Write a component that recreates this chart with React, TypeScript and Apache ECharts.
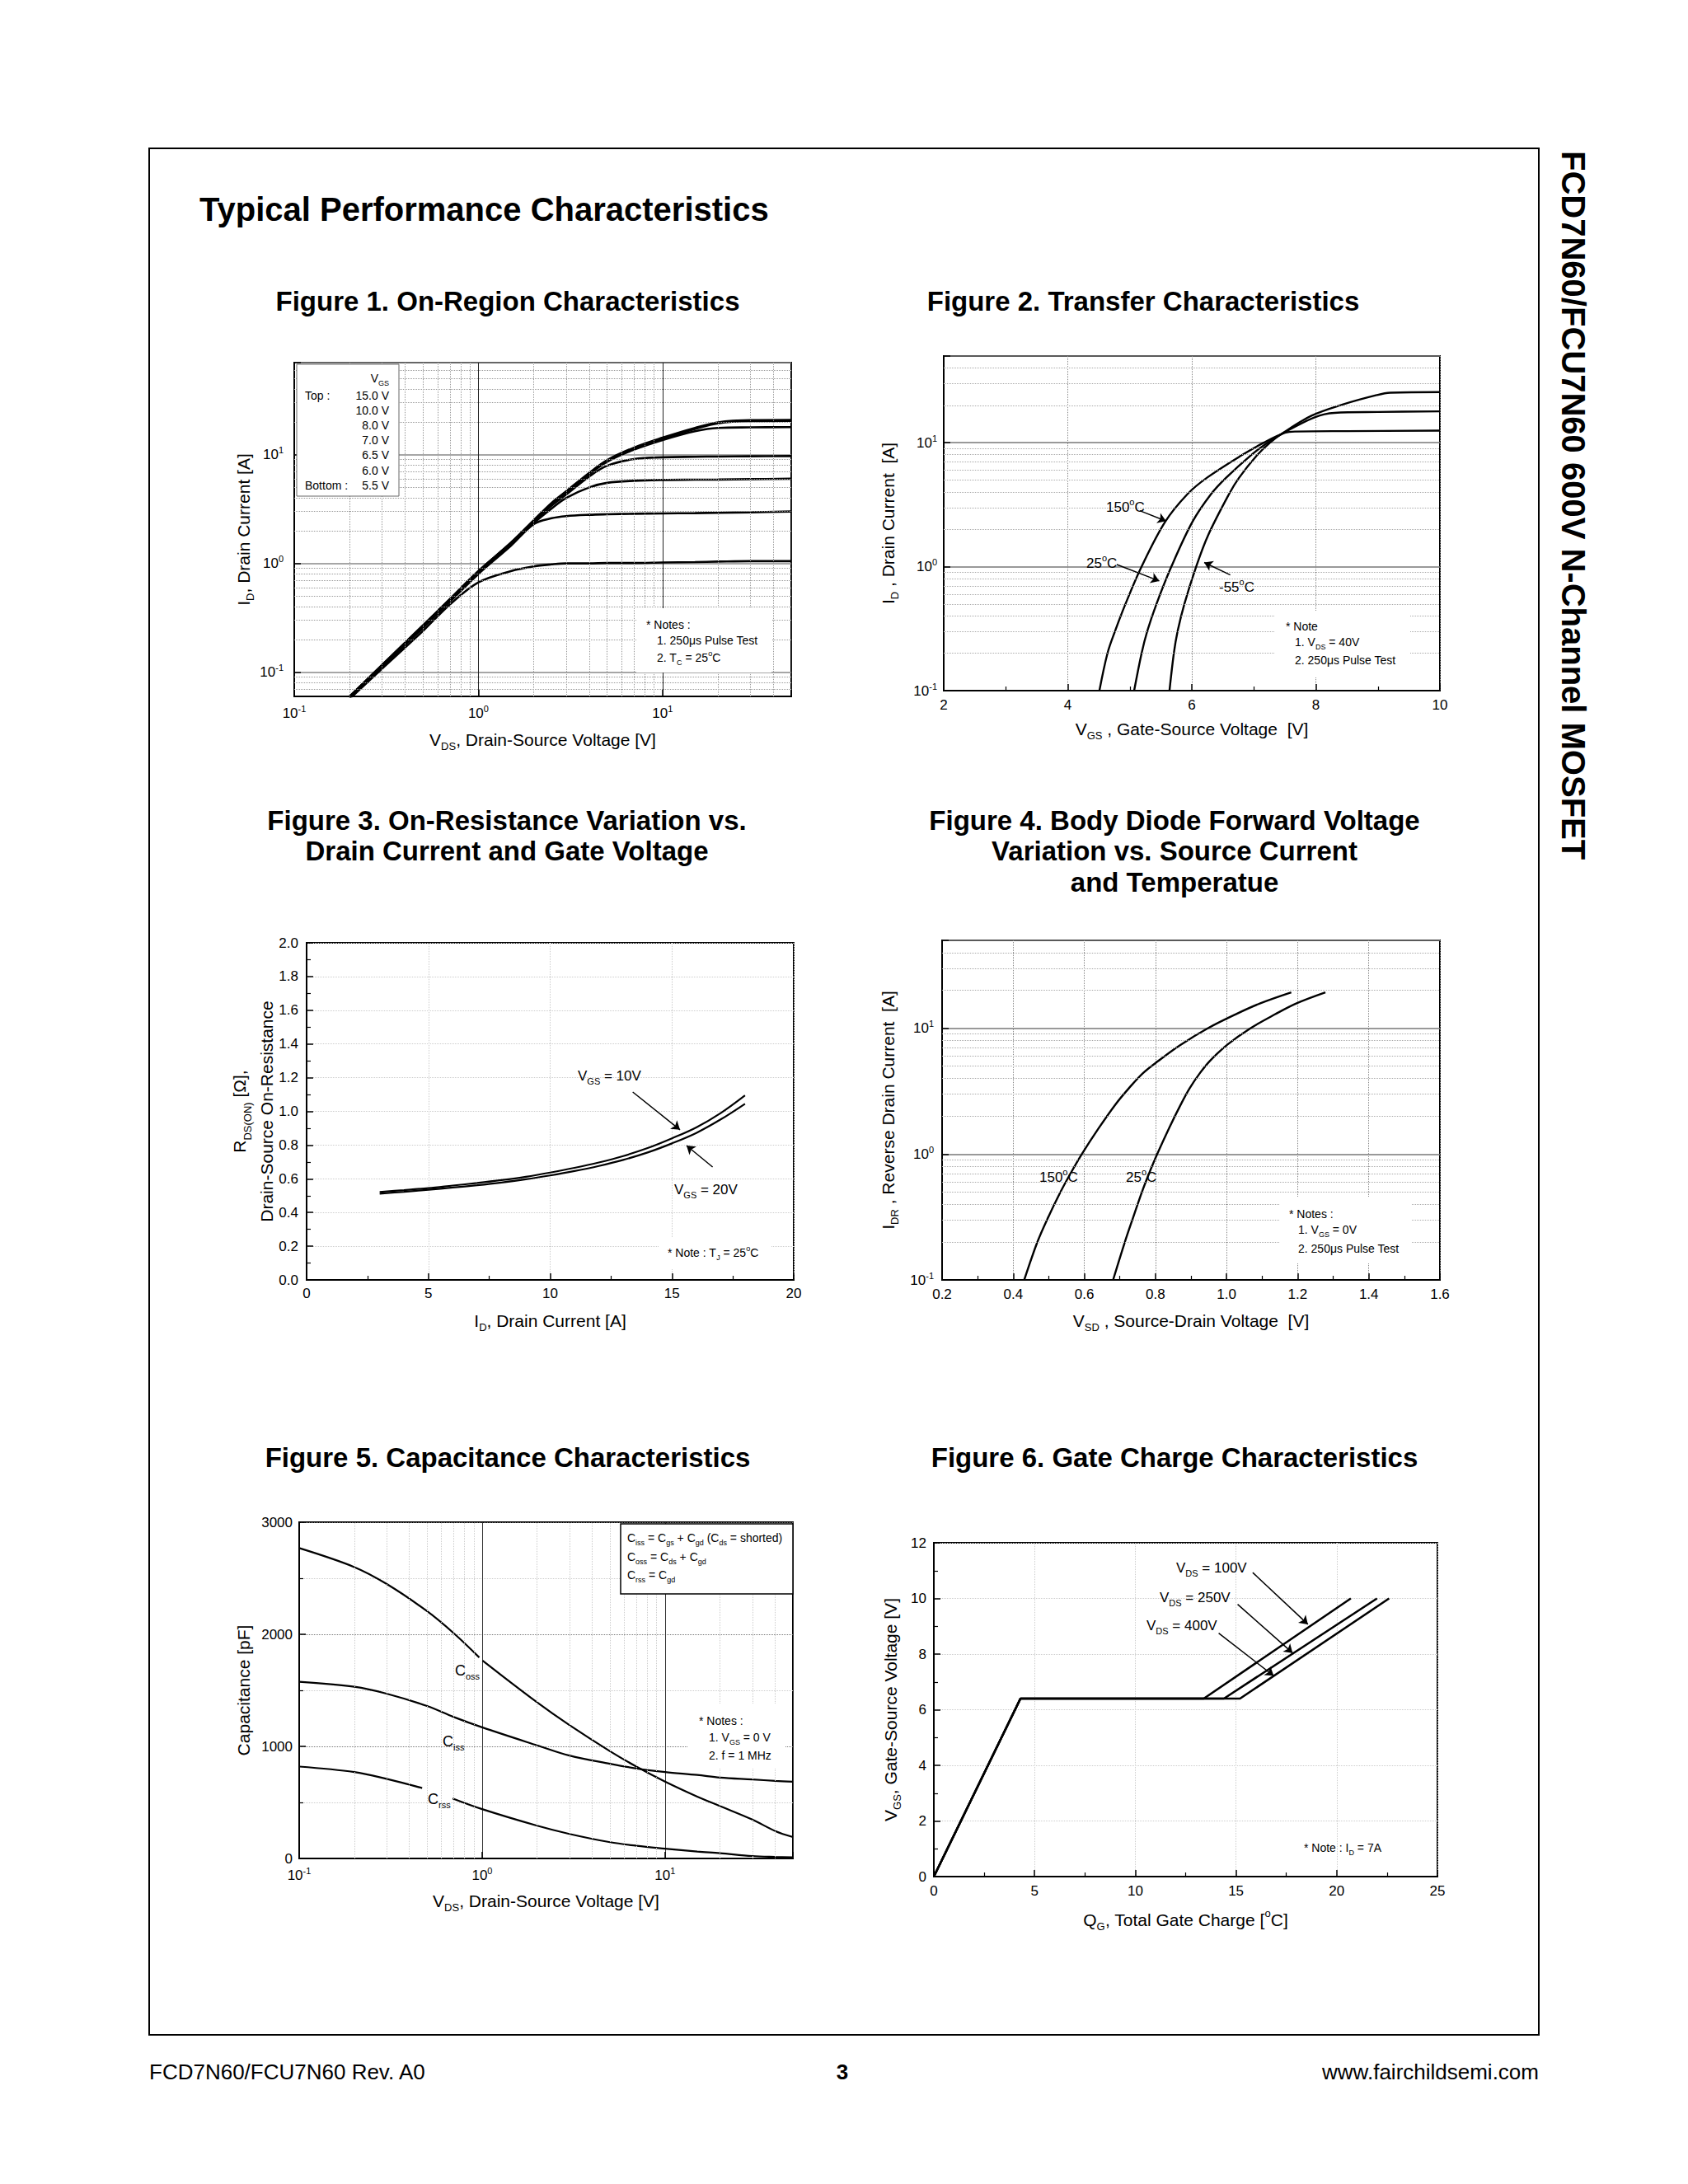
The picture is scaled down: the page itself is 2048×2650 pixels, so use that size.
import React, { useEffect, useRef } from 'react';
import * as echarts from 'echarts';

const FONT = '"Liberation Sans", Arial, Helvetica, sans-serif';

// ---------------- Figure 1 : On-Region Characteristics ----------------
const f1Vds = [0.2, 0.3, 0.5, 0.7, 1, 1.5, 2, 2.5, 3, 4, 5, 7, 10, 15, 20, 30, 50];
const f1Id15 = [0.06, 0.117, 0.27, 0.47, 0.85, 1.55, 2.5, 3.6, 4.6, 6.8, 8.9, 11.6, 14.3, 17.6, 19.8, 20.7, 20.8];
const f1Id10 = [0.06, 0.116, 0.268, 0.468, 0.85, 1.54, 2.48, 3.55, 4.55, 6.7, 8.8, 11.4, 14.0, 17.2, 19.4, 20.3, 20.4];
const f1Id8 = [0.059, 0.115, 0.265, 0.465, 0.84, 1.52, 2.45, 3.5, 4.5, 6.6, 8.6, 11.1, 13.6, 16.4, 17.6, 17.8, 17.9];
const f1Id7 = [0.059, 0.114, 0.262, 0.46, 0.83, 1.5, 2.4, 3.4, 4.3, 6.3, 7.9, 9.1, 9.45, 9.55, 9.6, 9.65, 9.7];
const f1Id65 = [0.059, 0.113, 0.26, 0.455, 0.82, 1.48, 2.35, 3.2, 4.0, 5.0, 5.5, 5.75, 5.85, 5.88, 5.9, 5.95, 6.0];
const f1Id6 = [0.058, 0.112, 0.255, 0.445, 0.8, 1.45, 2.3, 2.6, 2.72, 2.8, 2.83, 2.86, 2.88, 2.9, 2.92, 2.95, 3.0];
const f1Id55 = [0.057, 0.108, 0.24, 0.42, 0.67, 0.85, 0.94, 0.98, 1.0, 1.0, 1.01, 1.01, 1.02, 1.03, 1.04, 1.05, 1.05];
const f1LegendLabels = ['15.0 V', '10.0 V', '8.0 V', '7.0 V', '6.5 V', '6.0 V', '5.5 V'];
const f1MinorX = [0.2, 0.3, 0.4, 0.5, 0.6, 0.7, 0.8, 0.9, 2, 3, 4, 5, 6, 7, 8, 9, 20, 30, 40];
const f1MinorY = [0.07, 0.08, 0.09, 0.2, 0.3, 0.4, 0.5, 0.6, 0.7, 0.8, 0.9, 2, 3, 4, 5, 6, 7, 8, 9, 20, 30, 40, 50, 60];

// ---------------- Figure 2 : Transfer Characteristics ----------------
const f2Vgs150 = [4.51, 4.64, 4.76, 4.93, 5.19, 5.57, 5.93, 6.24, 6.8, 7.16, 7.5, 7.68, 8.5, 10];
const f2Id150 = [0.1, 0.2, 0.3, 0.5, 1.0, 2.3, 3.85, 5.2, 7.9, 10, 12, 12.3, 12.4, 12.5];
const f2Vgs25 = [5.07, 5.19, 5.28, 5.43, 5.67, 6.01, 6.31, 6.55, 6.95, 7.22, 7.48, 7.99, 8.3, 9, 10];
const f2Id25 = [0.1, 0.2, 0.3, 0.5, 1.0, 2.3, 3.85, 5.2, 7.9, 10, 12, 16.1, 17.4, 17.7, 17.9];
const f2VgsM55 = [5.64, 5.71, 5.77, 5.88, 6.07, 6.26, 6.6, 6.76, 7.05, 7.26, 7.47, 7.93, 8.43, 8.98, 9.2, 10];
const f2IdM55 = [0.1, 0.2, 0.3, 0.5, 1.0, 1.78, 3.85, 5.2, 7.9, 10, 12, 16.5, 20.3, 24.2, 25.3, 25.6];
const f2MinorY = [0.2, 0.3, 0.4, 0.5, 0.6, 0.7, 0.8, 0.9, 2, 3, 4, 5, 6, 7, 8, 9, 20, 30, 40];
const f2Arrows = [
  [[5.16, 2.83], [5.585, 2.33]],
  [[4.79, 1.04], [5.475, 0.767]],
  [[6.62, 0.858], [6.2, 1.08]],
];

// ---------------- Figure 3 : On-Resistance ----------------
const f3Id = [3, 4, 5, 6, 7, 8, 9, 10, 11, 12, 13, 14, 15, 16, 17, 18];
const f3R10 = [0.522, 0.533, 0.545, 0.56, 0.575, 0.592, 0.612, 0.637, 0.665, 0.697, 0.735, 0.782, 0.84, 0.905, 0.99, 1.095];
const f3R20 = [0.512, 0.523, 0.535, 0.548, 0.562, 0.578, 0.597, 0.62, 0.646, 0.676, 0.712, 0.756, 0.81, 0.872, 0.952, 1.045];
const f3Arrows = [
  [[13.39, 1.115], [15.33, 0.891]],
  [[16.67, 0.67], [15.6, 0.797]],
];

// ---------------- Figure 4 : Body Diode ----------------
const f4Vsd150 = [0.431, 0.468, 0.495, 0.533, 0.561, 0.593, 0.64, 0.687, 0.725, 0.765, 0.808, 0.871, 0.947, 1.025, 1.095, 1.182];
const f4Idr150 = [0.1, 0.2, 0.3, 0.5, 0.7, 1.0, 1.6, 2.47, 3.33, 4.4, 5.5, 7.4, 10, 12.9, 15.8, 19.3];
const f4Vsd25 = [0.681, 0.714, 0.735, 0.762, 0.782, 0.805, 0.838, 0.871, 0.896, 0.925, 0.953, 1.002, 1.067, 1.136, 1.197, 1.278];
const f4Idr25 = [0.1, 0.2, 0.3, 0.5, 0.7, 1.0, 1.6, 2.47, 3.33, 4.4, 5.5, 7.4, 10, 12.9, 15.8, 19.3];
const f4MinorY = [0.2, 0.3, 0.4, 0.5, 0.6, 0.7, 0.8, 0.9, 2, 3, 4, 5, 6, 7, 8, 9, 20, 30, 40];

// ---------------- Figure 5 : Capacitance ----------------
const f5Vds = [0.1, 0.2, 0.3, 0.5, 0.7, 1, 2, 3, 5, 7, 10, 15, 20, 30, 40, 50];
const f5Ciss = [1576, 1532, 1471, 1360, 1262, 1170, 1009, 918, 845, 803, 771, 745, 722, 705, 692, 685];
const f5CossVds = [0.1, 0.2, 0.3, 0.5, 0.7, 0.965, 0.985, 1.005, 2, 3, 5, 7, 10, 15, 20, 30, 40, 50];
const f5Coss = [2769, 2600, 2450, 2206, 2009, 1793, null, 1765, 1392, 1190, 957, 818, 686, 552, 467, 347, 245, 191];
const f5CrssVds = [0.1, 0.2, 0.3, 0.47, 0.58, 0.69, 1, 2, 3, 5, 7, 10, 15, 20, 30, 40, 50];
const f5Crss = [820, 771, 710, 628, null, 535, 440, 292, 219, 145, 113, 88, 62, 47, 22, 14, 10];
const f5MinorX = [0.2, 0.3, 0.4, 0.5, 0.6, 0.7, 0.8, 0.9, 2, 3, 4, 5, 6, 7, 8, 9, 20, 30, 40];

// ---------------- Figure 6 : Gate Charge ----------------
const f6Qg100 = [0, 4.3, 13.4, 20.7];
const f6Qg250 = [0, 4.3, 14.4, 22.0];
const f6Qg400 = [0, 4.3, 15.2, 22.6];
const f6Vgs = [0, 6.4, 6.4, 10];
const f6Arrows = [
  [[15.83, 10.93], [18.57, 9.07]],
  [[15.08, 9.79], [17.81, 8.04]],
  [[14.14, 8.75], [16.87, 7.22]],
];

// ---------------- helpers ----------------
const TICK = 17;

function rich(size: number, bold = false, lh = 1.4) {
  const w = bold ? 'bold' : 'normal';
  const small = Math.round(size * 0.62);
  const base = { fontFamily: FONT, fontWeight: w, color: '#000', fill: '#000' };
  return {
    n: { ...base, fontSize: size, lineHeight: Math.round(size * lh) },
    s: { ...base, fontSize: small, lineHeight: Math.round(small * 1.2), verticalAlign: 'bottom' },
    p: { ...base, fontSize: small, lineHeight: Math.round(small * 1.2), verticalAlign: 'top' },
  };
}

function T(x: number, y: number, text: string, size: number, align = 'left', bold = false) {
  const t = text.indexOf('{') >= 0 ? text : '{n|' + text + '}';
  return {
    type: 'text',
    x,
    y,
    z: 101,
    silent: true,
    style: {
      text: t,
      fill: '#000',
      fontFamily: FONT,
      fontSize: size,
      fontWeight: bold ? 'bold' : 'normal',
      align,
      textAlign: align,
      verticalAlign: 'middle',
      textVerticalAlign: 'middle',
      rich: rich(size, bold),
    },
  };
}

function box(x: number, y: number, w: number, h: number, stroke: string | null = null, lw = 1) {
  return {
    type: 'rect',
    z: 100,
    silent: true,
    shape: { x, y, width: w, height: h },
    style: { fill: '#fff', stroke: stroke || 'none', lineWidth: stroke ? lw : 0 },
  };
}

const zip = (xs: number[], ys: (number | null)[]) => xs.map((x, i) => [x, ys[i]]);

function curve(ai: number, xs: number[], ys: (number | null)[], width: number, smooth: any = 0.35) {
  return {
    type: 'line',
    xAxisIndex: ai,
    yAxisIndex: ai,
    data: zip(xs, ys),
    showSymbol: false,
    symbol: 'none',
    smooth,
    connectNulls: false,
    silent: true,
    z: 3,
    lineStyle: { color: '#000', width },
  };
}

function minorGrid(ai: number, xs: number[], ys: number[], color: string) {
  return {
    type: 'line',
    xAxisIndex: ai,
    yAxisIndex: ai,
    data: [],
    silent: true,
    z: 1,
    markLine: {
      silent: true,
      animation: false,
      symbol: ['none', 'none'],
      label: { show: false },
      lineStyle: { color, type: 'dotted', width: 1 },
      data: [...xs.map((v) => ({ xAxis: v })), ...ys.map((v) => ({ yAxis: v }))],
    },
  };
}

function arrows(ai: number, list: number[][][]) {
  return {
    type: 'line',
    xAxisIndex: ai,
    yAxisIndex: ai,
    data: [],
    silent: true,
    z: 5,
    markLine: {
      silent: true,
      animation: false,
      symbol: ['none', 'arrow'],
      symbolSize: 10,
      label: { show: false },
      lineStyle: { color: '#000', type: 'solid', width: 1.5 },
      data: list.map(([a, b]) => [{ coord: a }, { coord: b }]),
    },
  };
}

const logFmt = (v: number) => {
  const l = Math.log10(v);
  const e = Math.round(l);
  if (Math.abs(l - e) > 1e-6) return '';
  return '{b|10}{p|' + e + '}';
};
const logRich = {
  b: { fontSize: TICK, fontFamily: FONT, color: '#000', lineHeight: 22 },
  p: { fontSize: 11, fontFamily: FONT, color: '#000', verticalAlign: 'top', lineHeight: 13 },
};

function axis(gi: number, o: any) {
  return {
    gridIndex: gi,
    type: o.type || 'value',
    logBase: 10,
    min: o.min,
    max: o.max,
    interval: o.interval,
    name: o.name,
    nameLocation: 'middle',
    nameGap: o.nameGap,
    nameTextStyle: { color: '#000', fontFamily: FONT, fontSize: 21, rich: o.nameRich || rich(21) },
    axisLine: { show: true, onZero: false, lineStyle: { color: '#000', width: 2 } },
    axisTick: { show: true, inside: true, length: 8, lineStyle: { color: '#000', width: 1.5 } },
    minorTick: o.minor
      ? { show: true, splitNumber: 2, length: 5, lineStyle: { color: '#000', width: 1.2 } }
      : { show: false },
    minorSplitLine: o.minorSplit ? { show: true, lineStyle: o.minorSplit } : { show: false },
    axisLabel: {
      color: '#000',
      fontFamily: FONT,
      fontSize: TICK,
      margin: o.margin ?? 10,
      formatter: o.type === 'log' ? logFmt : o.fmt || ((v: number) => String(v)),
      rich: o.type === 'log' ? logRich : undefined,
    },
    splitLine: { show: true, lineStyle: o.split },
  };
}

function buildOption() {
  const grids = [
    { left: 357, top: 440, width: 603, height: 405 },
    { left: 1145, top: 432, width: 602, height: 406 },
    { left: 372, top: 1144, width: 591, height: 409 },
    { left: 1143, top: 1141, width: 604, height: 412 },
    { left: 363, top: 1847, width: 599, height: 408 },
    { left: 1133, top: 1872, width: 611, height: 405 },
  ].map((g) => ({
    ...g,
    show: true,
    borderColor: '#000',
    borderWidth: 2,
    backgroundColor: 'transparent',
    containLabel: false,
    outerBoundsMode: 'none',
  }));

  const dotted = (c: string) => ({ color: c, type: 'dotted', width: 1 });
  const solid = (c: string, w = 1) => ({ color: c, type: 'solid', width: w });

  const xAxis = [
    axis(0, { type: 'log', min: 0.1, max: 50, name: '{n|V}{s|DS}{n|, Drain-Source Voltage [V]}', nameGap: 38, split: solid('#222', 1), margin: 9 }),
    axis(1, { min: 2, max: 10, interval: 2, name: '{n|V}{s|GS}{n| , Gate-Source Voltage  [V]}', nameGap: 32, split: dotted('#888'), minor: true, margin: 9 }),
    axis(2, { min: 0, max: 20, interval: 5, name: '{n|I}{s|D}{n|, Drain Current [A]}', nameGap: 35, split: dotted('#ccc'), minor: true, margin: 8 }),
    axis(3, { min: 0.2, max: 1.6, interval: 0.2, name: '{n|V}{s|SD}{n| , Source-Drain Voltage  [V]}', nameGap: 35, split: dotted('#888'), minor: true, margin: 9, fmt: (v: number) => v.toFixed(1) }),
    axis(4, { type: 'log', min: 0.1, max: 50, name: '{n|V}{s|DS}{n|, Drain-Source Voltage [V]}', nameGap: 37, split: solid('#333', 1), margin: 9 }),
    axis(5, { min: 0, max: 25, interval: 5, name: '{n|Q}{s|G}{n|, Total Gate Charge [}{p|o}{n|C]}', nameGap: 38, split: dotted('#ccc'), minor: true, margin: 9 }),
  ];
  const yAxis = [
    axis(0, { type: 'log', min: 0.06, max: 70, name: '{n|I}{s|D}{n|, Drain Current [A]}', nameGap: 47, split: solid('#888', 1.5), margin: 13 }),
    axis(1, { type: 'log', min: 0.1, max: 50, name: '{n|I}{s|D}{n| , Drain Current  [A]}', nameGap: 53, split: solid('#777', 1.5), margin: 8 }),
    axis(2, { min: 0, max: 2, interval: 0.2, name: '{n|R}{s|DS(ON)}{n| [Ω],}\n{n|Drain-Source On-Resistance}', nameRich: rich(21, false, 1.57), nameGap: 30, split: dotted('#ccc'), minor: true, margin: 10, fmt: (v: number) => v.toFixed(1) }),
    axis(3, { type: 'log', min: 0.1, max: 50, name: '{n|I}{s|DR}{n| , Reverse Drain Current  [A]}', nameGap: 51, split: solid('#777', 1.5), margin: 10 }),
    axis(4, { min: 0, max: 3000, interval: 1000, name: '{n|Capacitance [pF]}', nameGap: 53, split: dotted('#777'), minor: true, minorSplit: dotted('#ccc'), margin: 8 }),
    axis(5, { min: 0, max: 12, interval: 2, name: '{n|V}{s|GS}{n|, Gate-Source Voltage [V]}', nameGap: 38, split: dotted('#ccc'), minor: true, margin: 9 }),
  ];

  const series: any[] = [
    // grid helpers
    minorGrid(0, f1MinorX, f1MinorY, '#999'),
    minorGrid(1, [], f2MinorY, '#aaa'),
    minorGrid(3, [], f4MinorY, '#aaa'),
    minorGrid(4, f5MinorX, [], '#ccc'),
    // fig 1
    curve(0, f1Vds, f1Id15, 2.6),
    curve(0, f1Vds, f1Id10, 2.6),
    curve(0, f1Vds, f1Id8, 2.6),
    curve(0, f1Vds, f1Id7, 2.6),
    curve(0, f1Vds, f1Id65, 2.6),
    curve(0, f1Vds, f1Id6, 2.6),
    curve(0, f1Vds, f1Id55, 2.6),
    // fig 2
    curve(1, f2Vgs150, f2Id150, 2.4),
    curve(1, f2Vgs25, f2Id25, 2.4),
    curve(1, f2VgsM55, f2IdM55, 2.4),
    arrows(1, f2Arrows),
    // fig 3
    curve(2, f3Id, f3R10, 2.2),
    curve(2, f3Id, f3R20, 2.2),
    arrows(2, f3Arrows),
    // fig 4
    curve(3, f4Vsd150, f4Idr150, 2.4),
    curve(3, f4Vsd25, f4Idr25, 2.4),
    // fig 5
    curve(4, f5CossVds, f5Coss, 2.2),
    curve(4, f5Vds, f5Ciss, 2.2),
    curve(4, f5CrssVds, f5Crss, 2.2),
    // fig 6
    curve(5, f6Qg100, f6Vgs, 2.6, false),
    curve(5, f6Qg250, f6Vgs, 2.6, false),
    curve(5, f6Qg400, f6Vgs, 2.6, false),
    arrows(5, f6Arrows),
  ];

  const legendY = [480, 498, 516, 534, 552, 571, 589];

  const graphic: any[] = [
    {
      type: 'rect',
      z: 99,
      silent: true,
      shape: { x: 181, y: 180, width: 1686, height: 2289 },
      style: { fill: 'none', stroke: '#000', lineWidth: 2 },
    },
    T(242, 254, 'Typical Performance Characteristics', 40, 'left', true),
    {
      type: 'text',
      x: 1909,
      y: 183,
      rotation: -Math.PI / 2,
      z: 101,
      silent: true,
      style: {
        text: 'FCD7N60/FCU7N60 600V N-Channel MOSFET',
        fill: '#000',
        fontFamily: FONT,
        fontSize: 40,
        fontWeight: 'bold',
        align: 'left',
        textAlign: 'left',
        verticalAlign: 'middle',
        textVerticalAlign: 'middle',
      },
    },
    T(181, 2514, 'FCD7N60/FCU7N60 Rev. A0', 26),
    T(1022, 2514, '3', 26, 'center', true),
    T(1867, 2514, 'www.fairchildsemi.com', 26, 'right'),

    // figure titles
    T(616, 365, 'Figure 1. On-Region Characteristics', 33, 'center', true),
    T(1387, 365, 'Figure 2. Transfer Characteristics', 33, 'center', true),
    T(615, 995, 'Figure 3. On-Resistance Variation vs.', 33, 'center', true),
    T(615, 1032, 'Drain Current and Gate Voltage', 33, 'center', true),
    T(1425, 995, 'Figure 4. Body Diode Forward Voltage', 33, 'center', true),
    T(1425, 1032, 'Variation vs. Source Current', 33, 'center', true),
    T(1425, 1070, 'and Temperatue', 33, 'center', true),
    T(616, 1768, 'Figure 5. Capacitance Characteristics', 33, 'center', true),
    T(1425, 1768, 'Figure 6. Gate Charge Characteristics', 33, 'center', true),

    // fig 1 legend
    box(360, 442, 124, 160, '#666', 1),
    T(472, 459, '{n|V}{s|GS}', 14, 'right'),
    T(370, 480, 'Top :', 14),
    T(370, 589, 'Bottom :', 14),
    ...f1LegendLabels.map((l, i) => T(472, legendY[i], l, 14, 'right')),
    // fig 1 notes
    box(772, 738, 164, 78),
    T(784, 758, '* Notes :', 14),
    T(797, 777, '1. 250μs Pulse Test', 14),
    T(797, 798, '{n|2. T}{s|C}{n| = 25}{p|o}{n|C}', 14),

    // fig 2 notes & labels
    box(1546, 742, 164, 80),
    T(1560, 760, '* Note', 14),
    T(1571, 779, '{n|1. V}{s|DS}{n| = 40V}', 14),
    T(1571, 801, '2. 250μs Pulse Test', 14),
    T(1342, 615, '{n|150}{p|o}{n|C}', 17),
    T(1318, 683, '{n|25}{p|o}{n|C}', 17),
    T(1479, 712, '{n|-55}{p|o}{n|C}', 17),

    // fig 3
    box(800, 1502, 135, 38),
    T(810, 1520, '{n|* Note : T}{s|J}{n| = 25}{p|o}{n|C}', 14),
    T(701, 1305, '{n|V}{s|GS}{n| = 10V}', 17),
    T(818, 1443, '{n|V}{s|GS}{n| = 20V}', 17),

    // fig 4
    box(1552, 1453, 161, 80),
    T(1564, 1473, '* Notes :', 14),
    T(1575, 1492, '{n|1. V}{s|GS}{n| = 0V}', 14),
    T(1575, 1515, '2. 250μs Pulse Test', 14),
    T(1261, 1428, '{n|150}{p|o}{n|C}', 17),
    T(1366, 1428, '{n|25}{p|o}{n|C}', 17),

    // fig 5
    box(753, 1849, 209, 85, '#000', 1.5),
    T(761, 1866, '{n|C}{s|iss}{n| = C}{s|gs}{n| + C}{s|gd}{n| (C}{s|ds}{n| = shorted)}', 14),
    T(761, 1889, '{n|C}{s|oss}{n| = C}{s|ds}{n| + C}{s|gd}', 14),
    T(761, 1911, '{n|C}{s|rss}{n| = C}{s|gd}', 14),
    box(834, 2068, 118, 78),
    T(848, 2088, '* Notes :', 14),
    T(860, 2108, '{n|1. V}{s|GS}{n| = 0 V}', 14),
    T(860, 2130, '2. f = 1 MHz', 14),
    T(552, 2027, '{n|C}{s|oss}', 18),
    T(537, 2113, '{n|C}{s|iss}', 18),
    T(519, 2183, '{n|C}{s|rss}', 18),

    // fig 6
    T(1582, 2242, '{n|* Note : I}{s|D}{n| = 7A}', 14),
    T(1427, 1902, '{n|V}{s|DS}{n| = 100V}', 17),
    T(1407, 1938, '{n|V}{s|DS}{n| = 250V}', 17),
    T(1391, 1972, '{n|V}{s|DS}{n| = 400V}', 17),
  ];

  return {
    animation: false,
    backgroundColor: '#fff',
    textStyle: { fontFamily: FONT },
    grid: grids,
    xAxis,
    yAxis,
    series,
    graphic,
  };
}

export default function App() {
  const ref = useRef<HTMLDivElement>(null);
  useEffect(() => {
    if (!ref.current) return;
    const chart = echarts.init(ref.current, undefined, { renderer: 'svg' });
    chart.setOption(buildOption() as any);
    return () => chart.dispose();
  }, []);
  return (
    <div
      ref={ref}
      style={{ position: 'absolute', left: 0, top: 0, width: 2048, height: 2650, background: '#fff' }}
    />
  );
}
